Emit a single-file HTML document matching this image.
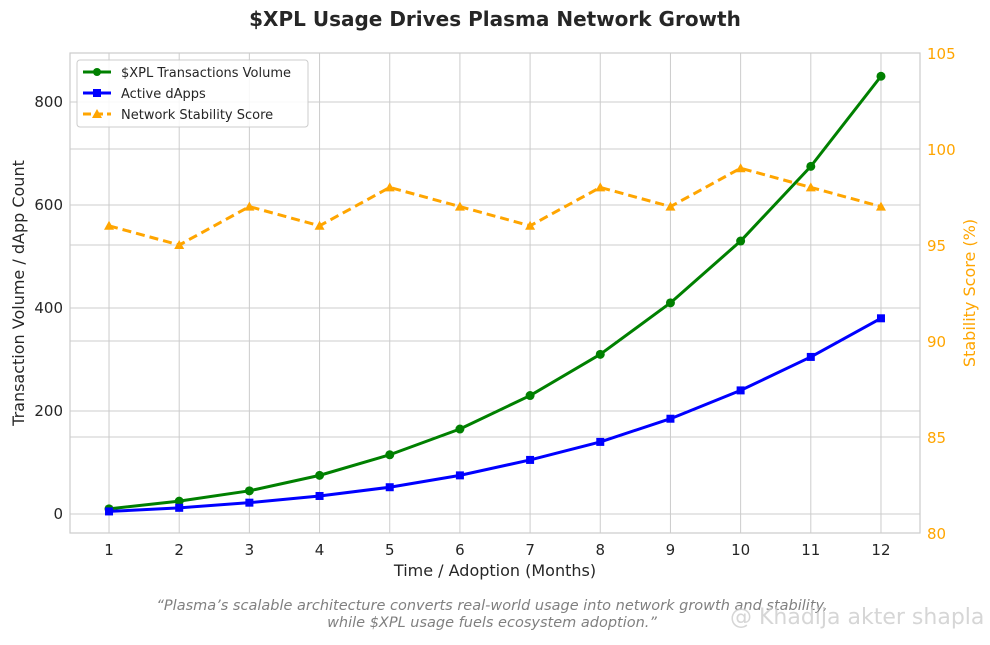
<!DOCTYPE html>
<html><head><meta charset="utf-8">
<style>
body{margin:0;background:#fff;font-family:"Liberation Sans","DejaVu Sans",sans-serif;}
svg text{font-family:"DejaVu Sans","Liberation Sans",sans-serif;}
</style></head>
<body>
<svg id="chart" width="990" height="640" xmlns="http://www.w3.org/2000/svg">
<rect width="990" height="640" fill="#fff"/>
<text x="495" y="26" text-anchor="middle" font-size="20" font-weight="bold" fill="#262626">$XPL Usage Drives Plasma Network Growth</text>
<g id="grid"></g>
<rect x="70" y="53" width="850" height="480" fill="none" stroke="#cccccc" stroke-width="1.2"/>
<g id="axes"></g>
<g id="series"></g>
<text x="495" y="576" text-anchor="middle" font-size="16" fill="#262626">Time / Adoption (Months)</text>
<text transform="translate(24,293) rotate(-90)" text-anchor="middle" font-size="16" fill="#262626">Transaction Volume / dApp Count</text>
<text transform="translate(975,293) rotate(-90)" text-anchor="middle" font-size="16" fill="#FFA500">Stability Score (%)</text>
<g>
<rect x="77" y="60" width="231" height="67" rx="3" fill="#fff" fill-opacity="0.85" stroke="#cccccc"/>
<g><line x1="83" y1="72" x2="111" y2="72" stroke="#008000" stroke-width="3"/><circle cx="97" cy="72" r="4" fill="#008000"/><text x="121" y="77" font-size="13" fill="#262626">$XPL Transactions Volume</text></g>
<g><line x1="83" y1="93" x2="111" y2="93" stroke="#0000ff" stroke-width="3"/><rect x="93" y="89" width="8" height="8" fill="#0000ff"/><text x="121" y="98" font-size="13" fill="#262626">Active dApps</text></g>
<g><line x1="83" y1="114" x2="111" y2="114" stroke="#FFA500" stroke-width="3" stroke-dasharray="8,4"/><polygon points="97,109 102,118 92,118" fill="#FFA500"/><text x="121" y="119" font-size="13" fill="#262626">Network Stability Score</text></g>
</g>
<text x="492" y="610" text-anchor="middle" font-size="14.5" font-style="italic" fill="#808080">“Plasma’s scalable architecture converts real-world usage into network growth and stability,</text>
<text x="492" y="627" text-anchor="middle" font-size="14.5" font-style="italic" fill="#808080">while $XPL usage fuels ecosystem adoption.”</text>
<text x="730" y="624" font-size="22" fill="#cccccc" fill-opacity="0.8">@ Khadija akter shapla</text>
</svg>
<script>
const months=[1,2,3,4,5,6,7,8,9,10,11,12];
const txVolume=[10,25,45,75,115,165,230,310,410,530,675,850];
const activeDapps=[5,12,22,35,52,75,105,140,185,240,305,380];
const stability=[96,95,97,96,98,97,96,98,97,99,98,97];
const leftTicks=[0,200,400,600,800];
const rightTicks=[80,85,90,95,100,105];
const NS="http://www.w3.org/2000/svg";
const L=70,R=920,T=53,B=533;
const xs=v=>L+(v-0.444)/(12.556-0.444)*(R-L);
const yl=v=>514-v*0.515;
const yr=v=>B-(v-80)/25*(B-T);
function mk(tag,attrs,parent){const e=document.createElementNS(NS,tag);for(const k in attrs)e.setAttribute(k,attrs[k]);parent.appendChild(e);return e;}
const grid=document.getElementById('grid'),axes=document.getElementById('axes'),ser=document.getElementById('series');
months.forEach(m=>{const x=xs(m);
 const g=mk('line',{x1:x,x2:x,y1:T,y2:B,stroke:'#cccccc','stroke-width':1},grid);
 
 const t=mk('text',{x:x,y:555,'text-anchor':'middle','font-size':15,fill:'#262626'},axes);t.textContent=m;
 });
leftTicks.forEach(v=>{const y=yl(v);
 const g=mk('line',{x1:L,x2:R,y1:y,y2:y,stroke:'#cccccc','stroke-width':1},grid);
 
 const t=mk('text',{x:63,y:y+5,'text-anchor':'end','font-size':15,fill:'#262626'},axes);t.textContent=v;
 });
rightTicks.forEach(v=>{const y=yr(v);
 if(v>80&&v<105){const g=mk('line',{x1:L,x2:R,y1:y,y2:y,stroke:'#cccccc','stroke-width':1},grid);
 }
 const t=mk('text',{x:927,y:y+6,'font-size':15,fill:'#FFA500'},axes);t.textContent=v;
 });
function series(vals,yf,color,dash,marker,name){
 const pts=vals.map((v,i)=>[xs(months[i]),yf(v)]);
 const p=mk('polyline',{points:pts.map(p=>p.join(',')).join(' '),fill:'none',stroke:color,'stroke-width':3,'stroke-dasharray':dash||'none','stroke-linejoin':'round'},ser);
 
 pts.forEach(([x,y])=>{let m;
  if(marker==='o')m=mk('circle',{cx:x,cy:y,r:4.5,fill:color},ser);
  else if(marker==='s')m=mk('rect',{x:x-4,y:y-4,width:8,height:8,fill:color},ser);
  else m=mk('polygon',{points:`${x},${y-5} ${x+5},${y+4} ${x-5},${y+4}`,fill:color},ser);
  });
}
series(stability,yr,'#FFA500','9,5','^','stability');
series(txVolume,yl,'#008000',null,'o','transactions');
series(activeDapps,yl,'#0000ff',null,'s','dapps');
</script>
</body></html>
